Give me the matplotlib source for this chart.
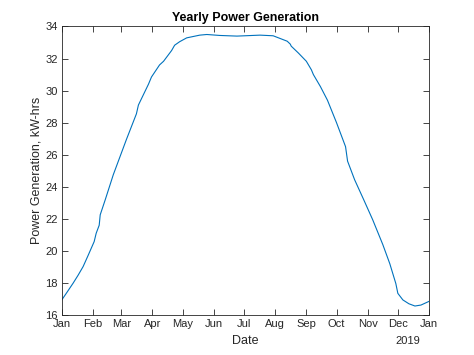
import matplotlib
matplotlib.use("Agg")
import matplotlib.pyplot as plt
import pandas as pd

# daily power readings picked off the curve (kW-hrs)
dates = ["2018-01-01", "2018-01-06", "2018-01-12", "2018-01-17", "2018-01-22",
         "2018-01-27", "2018-02-02", "2018-02-04",
         "2018-02-07", "2018-02-08", "2018-02-13", "2018-02-21", "2018-03-06",
         "2018-03-16", "2018-03-18", "2018-03-28", "2018-03-31", "2018-04-08",
         "2018-04-12", "2018-04-20", "2018-04-23", "2018-04-28", "2018-05-05",
         "2018-05-18", "2018-05-25", "2018-06-07", "2018-06-24", "2018-07-17",
         "2018-07-30", "2018-08-13", "2018-08-16", "2018-08-17", "2018-08-24",
         "2018-09-01", "2018-09-06", "2018-09-08", "2018-09-15", "2018-09-22",
         "2018-10-01", "2018-10-10", "2018-10-12", "2018-10-19", "2018-10-28",
         "2018-11-06", "2018-11-16", "2018-11-23", "2018-11-29", "2018-12-01",
         "2018-12-06", "2018-12-12", "2018-12-18", "2018-12-24", "2019-01-01"]
power = [16.96, 17.42, 17.98, 18.48, 19.02,
         19.72, 20.58, 21.1,
         21.6, 22.25, 23.19, 24.75, 26.94,
         28.55, 29.1, 30.4, 30.85, 31.6,
         31.83, 32.5, 32.83, 33.05, 33.29,
         33.46, 33.5, 33.44, 33.4, 33.46,
         33.42, 33.08, 32.9, 32.77, 32.35,
         31.83, 31.3, 31.0, 30.25, 29.4,
         28.0, 26.5, 25.6, 24.44, 23.2,
         21.94, 20.4, 19.2, 17.96, 17.35,
         16.94, 16.7, 16.56, 16.62, 16.85]

yticks = [16, 18, 20, 22, 24, 26, 28, 30, 32, 34]
month_names = ["Jan", "Feb", "Mar", "Apr", "May", "Jun",
               "Jul", "Aug", "Sep", "Oct", "Nov", "Dec", "Jan"]

dark = "#262626"
plt.rcParams["font.family"] = ["Liberation Sans", "DejaVu Sans"]
plt.rcParams["font.size"] = 8

x = pd.to_datetime(dates)

fig = plt.figure(figsize=(4.74, 3.55), dpi=100)
ax = fig.add_axes([0.1308, 0.1127, 0.7743, 0.8127])
ax.plot(x, power, color="#0072BD", lw=0.8)

month_ticks = pd.date_range("2018-01-01", "2019-01-01", freq="MS")
ax.set_xlim(month_ticks[0], month_ticks[-1])
ax.set_xticks(month_ticks)
ax.set_xticklabels(month_names)
ax.set_ylim(16, 34)
ax.set_yticks(yticks)

ax.tick_params(direction="in", length=4, width=0.6, colors=dark,
               top=True, right=True, labelsize=8, pad=3)
for s in ax.spines.values():
    s.set_color(dark)
    s.set_linewidth(0.6)

ax.text(0.975, -0.09, "2019", transform=ax.transAxes, ha="right", va="center",
        color=dark, fontsize=8)
ax.set_xlabel("Date", color=dark, fontsize=9, labelpad=4)
ax.set_ylabel("Power Generation, kW-hrs", color=dark, fontsize=9, labelpad=2)
ax.set_title("Yearly Power Generation", fontsize=9, fontweight="bold",
             color="black", pad=4)

fig.savefig("out.png", dpi=100)
